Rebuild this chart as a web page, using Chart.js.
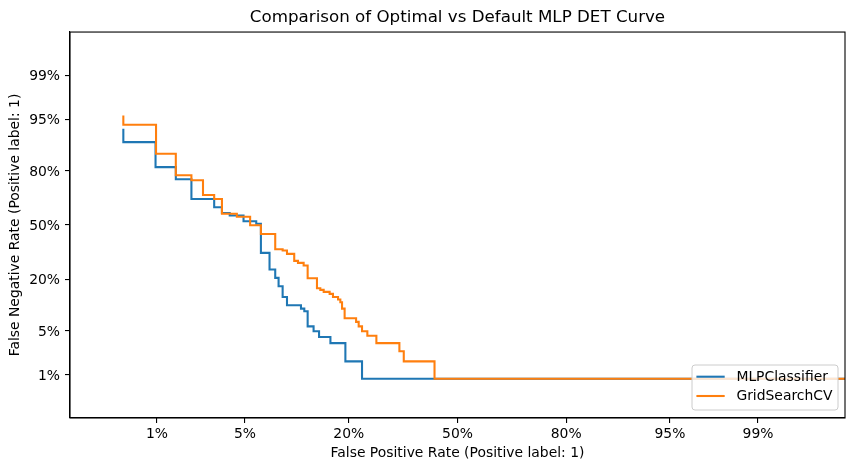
<!DOCTYPE html>
<html><head><meta charset="utf-8">
<script src="https://cdn.jsdelivr.net/npm/chart.js@4"></script>
<style>html,body{margin:0;padding:0;background:#fff}#wrap{width:855px;height:470px;position:relative}</style>
</head><body><div id="wrap"><canvas id="c"></canvas></div>
<script>
// Axis ticks (rates) and their labels
const tickRates = [0.001, 0.01, 0.05, 0.2, 0.5, 0.8, 0.95, 0.99, 0.999];
const tickLabels = ['0.1%', '1%', '5%', '20%', '50%', '80%', '95%', '99%', '99.9%'];
const seriesNames = ['MLPClassifier', 'GridSearchCV'];

// Step points (percent): false positive rate / false negative rate
const mlpFPR = [0.484, 0.97, 1.46, 1.97, 2.98, 3.41, 3.89, 4.88, 5.96, 6.40, 7.28, 7.91, 8.30, 8.79, 9.34, 11.28, 11.78, 12.30, 13.26, 14.19, 16.26, 19.27, 22.99, 99.99];
const mlpFNR = [93.28, 90.13, 81.58, 76.20, 65.72, 60.91, 57.41, 55.88, 52.35, 50.75, 33.27, 24.43, 20.56, 17.05, 13.13, 10.60, 9.69, 8.99, 5.76, 4.92, 4.09, 3.32, 1.70, 0.845];

const gridFPR = [0.484, 0.98, 1.46, 1.97, 2.44, 2.98, 3.41, 4.38, 5.42, 6.40, 7.91, 8.79, 9.34, 10.31, 10.84, 11.68, 12.30, 13.83, 14.41, 15.01, 16.11, 16.75, 17.75, 18.22, 18.57, 19.11, 21.62, 22.21, 22.99, 24.26, 26.50, 32.64, 33.87, 42.94, 99.99];
const gridFNR = [95.58, 94.05, 86.61, 78.08, 75.71, 67.97, 65.72, 56.91, 55.09, 49.88, 44.43, 35.32, 34.57, 32.70, 28.87, 27.82, 26.43, 20.39, 16.27, 15.67, 14.93, 14.22, 13.13, 12.32, 11.48, 9.69, 7.35, 6.60, 5.76, 4.92, 4.27, 3.32, 2.48, 1.70, 0.845];

const FONT = '"DejaVu Sans", sans-serif';
const COLORS = ['#1f77b4', '#ff7f0e'];

function probit(p){
  const a=[-3.969683028665376e+01,2.209460984245205e+02,-2.759285104469687e+02,1.383577518672690e+02,-3.066479806614716e+01,2.506628277459239e+00];
  const b=[-5.447609879822406e+01,1.615858368580409e+02,-1.556989798598866e+02,6.680131188771972e+01,-1.328068155288572e+01];
  const c=[-7.784894002430293e-03,-3.223964580411365e-01,-2.400758277161838e+00,-2.549732539343734e+00,4.374664141464968e+00,2.938163982698783e+00];
  const d=[7.784695709041462e-03,3.224671290700398e-01,2.445134137142996e+00,3.754408661907416e+00];
  const pl=0.02425, ph=1-pl; let q, r;
  if (p < pl) { q=Math.sqrt(-2*Math.log(p)); return (((((c[0]*q+c[1])*q+c[2])*q+c[3])*q+c[4])*q+c[5])/((((d[0]*q+d[1])*q+d[2])*q+d[3])*q+1); }
  if (p <= ph) { q=p-0.5; r=q*q; return (((((a[0]*r+a[1])*r+a[2])*r+a[3])*r+a[4])*r+a[5])*q/(((((b[0]*r+b[1])*r+b[2])*r+b[3])*r+b[4])*r+1); }
  q=Math.sqrt(-2*Math.log(1-p)); return -(((((c[0]*q+c[1])*q+c[2])*q+c[3])*q+c[4])*q+c[5])/((((d[0]*q+d[1])*q+d[2])*q+d[3])*q+1);
}
function toPoints(fpr, fnr){ return fpr.map((v,i)=>({x: probit(v/100), y: probit(fnr[i]/100)})); }
function probitTicks(scale){
  scale.ticks = tickRates.map(r=>({value: probit(r)})).filter(t=>t.value >= scale.min-1e-9 && t.value <= scale.max+1e-9);
}
function labelFor(v){
  let best=0, bd=1e9;
  tickRates.forEach((r,i)=>{ const dd=Math.abs(probit(r)-v); if (dd<bd){bd=dd;best=i;} });
  return tickLabels[best];
}

const frameAndLegend = {
  id: 'frameAndLegend',
  afterDraw(chart){
    const {ctx, chartArea:a} = chart;
    ctx.save();
    ctx.strokeStyle = '#000'; ctx.lineWidth = 1.1;
    ctx.strokeRect(a.left, a.top, a.right-a.left, a.bottom-a.top);
    const w=146, h=45, x=a.right-7-w, y=a.bottom-8-h, rad=3;
    ctx.beginPath();
    ctx.moveTo(x+rad,y); ctx.lineTo(x+w-rad,y); ctx.quadraticCurveTo(x+w,y,x+w,y+rad);
    ctx.lineTo(x+w,y+h-rad); ctx.quadraticCurveTo(x+w,y+h,x+w-rad,y+h);
    ctx.lineTo(x+rad,y+h); ctx.quadraticCurveTo(x,y+h,x,y+h-rad);
    ctx.lineTo(x,y+rad); ctx.quadraticCurveTo(x,y,x+rad,y); ctx.closePath();
    ctx.fillStyle='rgba(255,255,255,0.8)'; ctx.fill();
    ctx.strokeStyle='#cccccc'; ctx.lineWidth=1; ctx.stroke();
    ctx.font = '13.9px ' + FONT; ctx.textBaseline='middle'; ctx.textAlign='left';
    seriesNames.forEach((n,i)=>{
      const ly = y + 11.7 + i*19.3;
      ctx.strokeStyle = COLORS[i]; ctx.lineWidth = 2.08;
      ctx.beginPath(); ctx.moveTo(x+4.4, ly); ctx.lineTo(x+32.7, ly); ctx.stroke();
      ctx.fillStyle='#000'; ctx.fillText(n, x+44.4, ly+0.5);
    });
    ctx.restore();
  }
};

const axisCommon = (titleText, pad, tickPad, labelOffset) => ({
  type: 'linear', min: -3, max: 3,
  afterBuildTicks: probitTicks,
  ticks: { callback: (v)=>labelFor(v), color:'#000', font:{family:FONT, size:13.9}, padding:tickPad, labelOffset: labelOffset, maxRotation:0, autoSkip:false },
  grid: { display:true, drawOnChartArea:false, drawTicks:true, tickLength:5, color:'#000', lineWidth:1.1 },
  border: { display:true, color:'#000', width:1.1 },
  title: { display:true, text:titleText, color:'#000', font:{family:FONT, size:13.9}, padding: pad }
});

const xAxis = axisCommon('False Positive Rate (Positive label: 1)', {top:0, bottom:8}, 3, 0);
xAxis.afterFit = s => { s.height = 52; };
const yAxis = axisCommon('False Negative Rate (Positive label: 1)', {top:7.5, bottom:0}, 5, 1.5);
yAxis.afterFit = s => { s.width = 70; };

new Chart(document.getElementById('c'), {
  type: 'scatter',
  data: { datasets: [
    { label: seriesNames[0], data: toPoints(mlpFPR, mlpFNR), showLine:true, stepped:'after', borderColor:COLORS[0], backgroundColor:COLORS[0], borderWidth:2.08, pointRadius:0, pointHoverRadius:0, order:1 },
    { label: seriesNames[1], data: toPoints(gridFPR, gridFNR), showLine:true, stepped:'after', borderColor:COLORS[1], backgroundColor:COLORS[1], borderWidth:2.08, pointRadius:0, pointHoverRadius:0, order:0 }
  ]},
  options: {
    responsive:true, maintainAspectRatio:false, animation:false,
    layout: { padding: { left:0, right:10, top:0, bottom:0 } },
    plugins: {
      legend: { display:false },
      tooltip: { enabled:false },
      title: { display:true, fullSize:false, text:'Comparison of Optimal vs Default MLP DET Curve', color:'#000', font:{family:FONT, size:16.7, weight:'normal'}, padding:{top:8, bottom:4} }
    },
    scales: { x: xAxis, y: yAxis }
  },
  plugins: [frameAndLegend]
});
</script>
</body></html>
